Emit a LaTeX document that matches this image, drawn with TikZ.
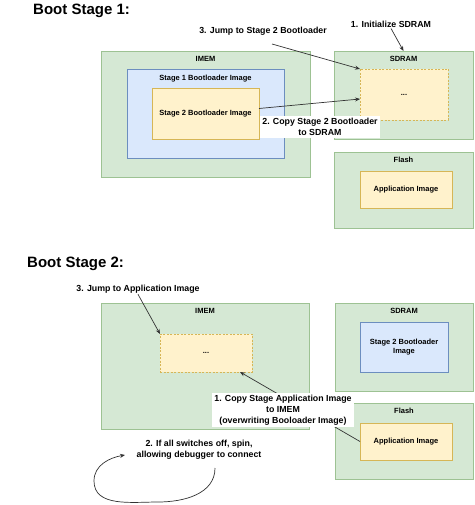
\documentclass[tikz,border=0pt]{standalone}
\usepackage{fontspec}
\setmainfont{Liberation Sans}
\usetikzlibrary{positioning,arrows.meta}
\definecolor{memfill}{HTML}{D5E8D4}
\definecolor{memline}{HTML}{9DC293}
\definecolor{imgfill}{HTML}{FFF2CC}
\definecolor{imgline}{HTML}{D6B656}
\definecolor{blfill}{HTML}{DAE8FC}
\definecolor{blline}{HTML}{6C8EBF}
\definecolor{arrline}{HTML}{333333}
\begin{document}
\begin{tikzpicture}[x=1pt,y=-1pt,
  box/.style={anchor=north west,inner sep=0pt,outer sep=0pt,line width=.8pt,
    font=\fontsize{7.5}{9}\selectfont\bfseries,align=center},
  mem/.style={box,draw=memline,fill=memfill},
  img/.style={box,draw=imgline,fill=imgfill},
  tmpimg/.style={img,dash pattern=on 2pt off 1.5pt},
  bl/.style={box,draw=blline,fill=blfill},
  boxlbl/.style={inner sep=1pt,font=\fontsize{7.5}{9}\selectfont\bfseries},
  lbl/.style={inner sep=1pt,font=\fontsize{8.8}{11}\selectfont\bfseries,align=center},
  note/.style={lbl,fill=white,inner sep=2pt},
  title/.style={anchor=base west,inner sep=0pt,font=\fontsize{15}{18}\selectfont\bfseries},
  arr/.style={draw=arrline,line width=.7pt,-{Stealth[length=5pt,width=4pt]}}]
\useasboundingbox (0,0) rectangle (474,505);

\node[title] (t1) at (33,14.7) {Boot Stage 1:};
\node[mem,minimum width=209pt,minimum height=126pt] (imem1) at (101,51) {};
\node[boxlbl,below=4pt of imem1.north] {IMEM};
\node[bl,minimum width=157pt,minimum height=89pt] (s1img) at (127,69) {};
\node[boxlbl,below=5pt of s1img.north] {Stage 1 Bootloader Image};
\node[img,minimum width=107pt,minimum height=51pt] (s2img) at (152,88) {Stage 2 Bootloader Image};
\node[mem,minimum width=139pt,minimum height=88pt] (sdram1) at (334,51) {};
\node[boxlbl,below=4pt of sdram1.north] {SDRAM};
\node[tmpimg,minimum width=88pt,minimum height=51pt] (sdtmp) at (360,69) {...};
\node[mem,minimum width=139pt,minimum height=76pt] (flash1) at (334,152) {};
\node[boxlbl,below=4pt of flash1.north] {Flash};
\node[img,minimum width=92pt,minimum height=37pt] (app1) at (360,171) {Application Image};

\node[lbl] (init) at (391,24) {1. Initialize SDRAM};
\node[lbl] (jump1) at (263,31) {3. Jump to Stage 2 Bootloader};
\coordinate (j1tail) at (272,44);
\draw[arr] (init.south) -- (sdram1.north);
\draw[arr] (j1tail) -- (sdtmp.north west);
\draw[arr] ([yshift=5pt]s2img.east) -- ([yshift=-4.5pt]sdtmp.west);
\node[note] (copy1) at (320,127) {2. Copy Stage 2 Bootloader\\to SDRAM};

\node[title] (t2) at (27,267) {Boot Stage 2:};
\node[mem,minimum width=208pt,minimum height=126pt] (imem2) at (101,303) {};
\node[boxlbl,below=4pt of imem2.north] {IMEM};
\node[tmpimg,minimum width=92pt,minimum height=38pt] (imtmp) at (160,334) {...};
\node[mem,minimum width=138pt,minimum height=88pt] (sdram2) at (335,303) {};
\node[boxlbl,below=4pt of sdram2.north] {SDRAM};
\node[bl,minimum width=88pt,minimum height=50pt] (s2img2) at (360,322) {Stage 2 Bootloader\\Image};
\node[mem,minimum width=138pt,minimum height=76pt] (flash2) at (335,403) {};
\node[boxlbl,below=4pt of flash2.north] {Flash};
\node[img,minimum width=92pt,minimum height=37pt] (app2) at (360,423) {Application Image};

\node[lbl] (jump2) at (138,289) {3. Jump to Application Image};
\draw[arr] (jump2.south) -- (imtmp.north west);
\draw[arr] (app2.west) -- ([xshift=-12pt]imtmp.south east);
\node[note] (copy2) at (283,410) {1. Copy Stage Application Image\\to IMEM\\(overwriting Booloader Image)};

\node[lbl] (spin) at (199,450) {2. If all switches off, spin,\\allowing debugger to connect};
\coordinate (lpstart) at (215,468);
\coordinate (lpbot) at (158,502);
\coordinate (lpleft) at (94,481);
\coordinate (lpend) at (125,455);
\draw[arr] (lpstart) to[out=-90,in=0] (lpbot) to[out=180,in=-90] (lpleft) to[out=90,in=190] (lpend);
\end{tikzpicture}
\end{document}
